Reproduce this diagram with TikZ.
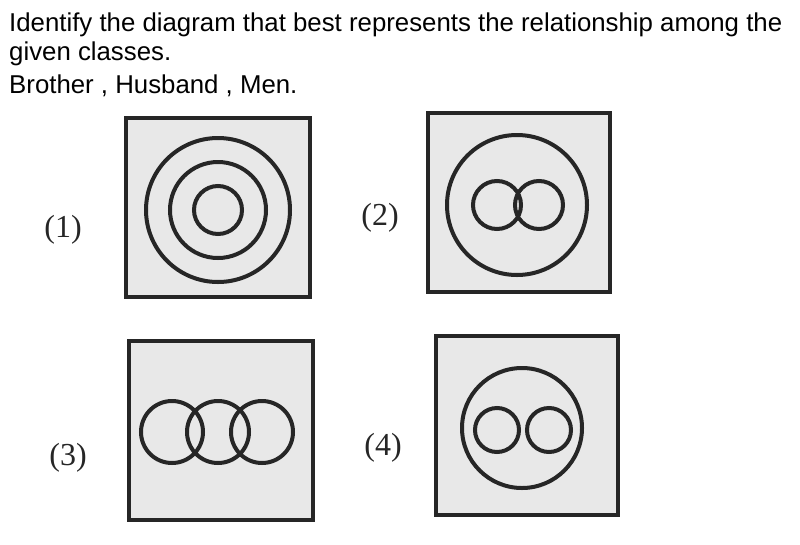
\documentclass[tikz,border=0pt]{standalone}
\usepackage{fontspec}
\setmainfont{Liberation Sans}
\newfontfamily\lab{Liberation Serif}
\begin{document}
\begin{tikzpicture}[x=1pt,y=-1pt,
  boxs/.style={draw=black!85,line width=3.5pt,fill=black!9},
  circ/.style={draw=black!85,line width=4pt},
  lbl/.style={font=\lab\fontsize{32}{32}\selectfont,text=black!85},
  txt/.style={font=\fontsize{25.8}{30}\selectfont,anchor=west,inner sep=0pt}]
\useasboundingbox (0,0) rectangle (800,544);
\node[txt] (t1) at (9,25) {Identify the diagram that best represents the relationship among the};
\node[txt] (t2) at (9,54) {given classes.};
\node[txt] (t3) at (9,86) {Brother , Husband , Men.};
% box 1
\draw[boxs] (126,118) rectangle (310,297);
\draw[circ] (218,210) circle (72) (218,210) circle (48) (218,210) circle (24);
\node[lbl] (l1) at (63,230) {(1)};
% box 2
\draw[boxs] (428,113) rectangle (610,292);
\draw[circ] (517,205) circle (70) (497,205) circle (24) (539,205) circle (24);
\node[lbl] (l2) at (380,218) {(2)};
% box 3
\draw[boxs] (129,341) rectangle (313,520);
\draw[circ] (172,432) circle (31) (218,432) circle (31) (262,432) circle (31);
\node[lbl] (l3) at (68,458) {(3)};
% box 4
\draw[boxs] (436,336) rectangle (618,515);
\draw[circ] (522,428) circle (60) (497,430) circle (22) (549,430) circle (22);
\node[lbl] (l4) at (383,448) {(4)};
\end{tikzpicture}
\end{document}
